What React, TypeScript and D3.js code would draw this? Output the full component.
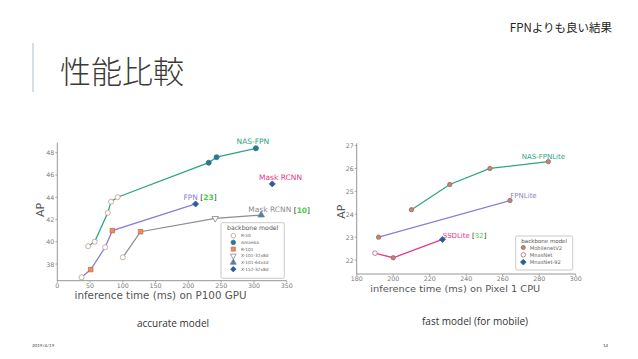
import React from "react";
import * as d3 from "d3";

// ---------- Data ----------
// Left chart (P100 GPU)
const nasFpnX = [47, 57, 77, 82, 92, 231, 243, 303];
const nasFpnY = [39.6, 40.0, 42.6, 43.6, 44.0, 47.1, 47.6, 48.4];
const nasFpnM = ["R-50", "R-50", "R-50", "R-50", "R-50", "Amoeba", "Amoeba", "Amoeba"];

const fpnX = [37, 51, 73, 84, 211];
const fpnY = [36.8, 37.5, 39.5, 41.0, 43.4];
const fpnM = ["R-50", "R-101", "R-50", "R-101", "X-152-32x8d"];

const maskX = [100, 127, 241, 311];
const maskY = [38.6, 40.9, 42.1, 42.4];
const maskM = ["R-50", "R-101", "X-101-32x8d", "X-101-64x4d"];

const maskSoloX = [328];
const maskSoloY = [45.2];
const maskSoloM = ["X-152-32x8d"];

const leftXTicks = [0, 50, 100, 150, 200, 250, 300, 350];
const leftYTicks = [38, 40, 42, 44, 46, 48];
const leftLegend = ["R-50", "Amoeba", "R-101", "X-101-32x8d", "X-101-64x4d", "X-152-32x8d"];

// Right chart (Pixel 1 CPU)
const nasLiteX = [210, 231, 253, 285];
const nasLiteY = [24.2, 25.3, 26.0, 26.3];
const nasLiteM = ["MobilenetV2", "MobilenetV2", "MobilenetV2", "MobilenetV2"];

const fpnLiteX = [192, 264];
const fpnLiteY = [23.0, 24.6];
const fpnLiteM = ["MobilenetV2", "MobilenetV2"];

const ssdLiteX = [190, 200, 227];
const ssdLiteY = [22.3, 22.1, 22.9];
const ssdLiteM = ["MnasNet", "MobilenetV2", "MnasNet-92"];

const rightXTicks = [180, 200, 220, 240, 260, 280, 300];
const rightYTicks = [22, 23, 24, 25, 26, 27];
const rightLegend = ["MobilenetV2", "MnasNet", "MnasNet-92"];

// ---------- Styles ----------
const GREEN = "#2ea585";
const PURPLE = "#8a7fd0";
const GRAY = "#8e8e8e";
const MAGENTA = "#e8388a";
const BRIGHT_GREEN = "#3fd13f";
const AXIS = "#8a8a8a";
const TICKTXT = "#7a7a7a";
const CHARTFONT = "DejaVu Sans, sans-serif";

type MStyle = { type: d3.SymbolType; fill: string; stroke: string; rot?: number; size: number };
const markerStyles: Record<string, MStyle> = {
  "R-50": { type: d3.symbolCircle, fill: "#ffffff", stroke: "#c29a86", size: 20 },
  Amoeba: { type: d3.symbolCircle, fill: "#2e7690", stroke: "#2e7690", size: 20 },
  "R-101": { type: d3.symbolSquare, fill: "#ec8d62", stroke: "#c86a45", size: 20 },
  "X-101-32x8d": { type: d3.symbolTriangle, fill: "#ffffff", stroke: "#888888", rot: 180, size: 18 },
  "X-101-64x4d": { type: d3.symbolTriangle, fill: "#5b7fa3", stroke: "#5b7fa3", size: 18 },
  "X-152-32x8d": { type: d3.symbolSquare, fill: "#2f5d9c", stroke: "#2f5d9c", rot: 45, size: 18 },
  MobilenetV2: { type: d3.symbolCircle, fill: "#c08676", stroke: "#9c6a5e", size: 15 },
  MnasNet: { type: d3.symbolCircle, fill: "#ffffff", stroke: "#a86a8a", size: 17 },
  "MnasNet-92": { type: d3.symbolSquare, fill: "#2f5d9c", stroke: "#2f5d9c", rot: 45, size: 18 },
};

function Marker({ x, y, m, scale = 1 }: { x: number; y: number; m: string; scale?: number }) {
  const s = markerStyles[m];
  const path = d3.symbol().type(s.type).size(s.size * scale)()!;
  return (
    <path
      d={path}
      transform={`translate(${x},${y}) rotate(${s.rot || 0})`}
      fill={s.fill}
      stroke={s.stroke}
      strokeWidth={0.8}
    />
  );
}

// ---------- Left chart scales ----------
const lx = d3.scaleLinear().domain([0, 350]).range([57.3, 286.7]);
const ly = d3.scaleLinear().domain([36.5, 48.9]).range([280.7, 142.7]);
// ---------- Right chart scales ----------
const rx = d3.scaleLinear().domain([180, 300]).range([356.7, 575.7]);
const ry = d3.scaleLinear().domain([21.39, 27.1]).range([274, 143.3]);

function Series({ xs, ys, ms, color, sx, sy, scale = 1 }: any) {
  const line = d3
    .line<number>()
    .x((_, i) => sx(xs[i]))
    .y((_, i) => sy(ys[i]));
  return (
    <g>
      {xs.length > 1 && <path d={line(xs)!} fill="none" stroke={color} strokeWidth={1.3} />}
      {xs.map((v: number, i: number) => (
        <Marker key={i} x={sx(v)} y={sy(ys[i])} m={ms[i]} scale={scale} />
      ))}
    </g>
  );
}

function Axes({ sx, sy, xTicks, yTicks, xLabel, xLabelY, xLabelLen, xLabelSize, apX, apY }: any) {
  const [x0, x1] = sx.range();
  const [y0, y1] = sy.range();
  return (
    <g fontFamily={CHARTFONT}>
      <line x1={x0} x2={x0} y1={y0} y2={y1} stroke={AXIS} strokeWidth={0.9} />
      <line x1={x0} x2={x1} y1={y0} y2={y0} stroke={AXIS} strokeWidth={0.9} />
      {yTicks.map((t: number) => (
        <g key={t}>
          <line x1={x0 - 2} x2={x0} y1={sy(t)} y2={sy(t)} stroke={AXIS} strokeWidth={0.7} />
          <text x={x0 - 3} y={sy(t)} fontSize={6.3} fill={TICKTXT} textAnchor="end" dominantBaseline="central">
            {t}
          </text>
        </g>
      ))}
      {xTicks.map((t: number) => (
        <g key={t}>
          <line x1={sx(t)} x2={sx(t)} y1={y0} y2={y0 + 2} stroke={AXIS} strokeWidth={0.7} />
          <text x={sx(t)} y={y0 + 4.8} fontSize={6.3} fill={TICKTXT} textAnchor="middle" dominantBaseline="central">
            {t}
          </text>
        </g>
      ))}
      <text
        x={(x0 + x1) / 2 - (x1 - x0) * 0.05}
        y={xLabelY}
        fontSize={xLabelSize}
        fill="#555"
        textAnchor="middle"
        dominantBaseline="central"
        textLength={xLabelLen}
        lengthAdjust="spacingAndGlyphs"
      >
        {xLabel}
      </text>
      <text
        x={apX}
        y={apY}
        fontSize={11}
        fill="#555"
        textAnchor="middle"
        dominantBaseline="central"
        transform={`rotate(-90 ${apX} ${apY})`}
      >
        AP
      </text>
    </g>
  );
}

function Legend({ x, y, w, h, items, titleSize, itemSize, step, markerDx, textDx, firstDy, scale }: any) {
  return (
    <g fontFamily={CHARTFONT}>
      <rect x={x} y={y} width={w} height={h} fill="#fff" stroke="#bbb" strokeWidth={0.8} rx={1.5} />
      <text x={x + w / 2} y={y + 5} fontSize={titleSize} fill="#555" textAnchor="middle" dominantBaseline="central">
        backbone model
      </text>
      {items.map((it: string, i: number) => (
        <g key={it}>
          <Marker x={x + markerDx} y={y + firstDy + i * step} m={it} scale={scale} />
          <text x={x + textDx} y={y + firstDy + i * step} fontSize={itemSize} fill="#666" dominantBaseline="central">
            {it}
          </text>
        </g>
      ))}
    </g>
  );
}

export default function App() {
  return (
    <svg
      width={638}
      height={359}
      style={{ position: "absolute", left: 0, top: 0, background: "#fff" }}
    >
      <rect width={638} height={359} fill="#fff" />
      {/* Slide header */}
      <line x1={33} x2={33} y1={43} y2={92} stroke="#c9d5da" strokeWidth={1.5} />
      <text
        x={60}
        y={69}
        fontSize={31}
        fontFamily="'Noto Sans CJK JP', sans-serif"
        fontWeight={300}
        fill="#3a3a36"
        dominantBaseline="central"
      >
        性能比較
      </text>
      <text
        x={612}
        y={27}
        fontSize={11.5}
        fontFamily="'Noto Sans CJK JP', sans-serif"
        fill="#222"
        textAnchor="end"
        dominantBaseline="central"
      >
        FPNよりも良い結果
      </text>

      {/* Left chart */}
      <Axes
        sx={lx}
        sy={ly}
        xTicks={leftXTicks}
        yTicks={leftYTicks}
        xLabel="inference time (ms) on P100 GPU"
        xLabelY={294.5}
        xLabelLen={172}
        xLabelSize={10.5}
        apX={40.7}
        apY={210}
      />
      <Series xs={nasFpnX} ys={nasFpnY} ms={nasFpnM} color={GREEN} sx={lx} sy={ly} />
      <Series xs={fpnX} ys={fpnY} ms={fpnM} color={PURPLE} sx={lx} sy={ly} />
      <Series xs={maskX} ys={maskY} ms={maskM} color={GRAY} sx={lx} sy={ly} />
      <Series xs={maskSoloX} ys={maskSoloY} ms={maskSoloM} color={MAGENTA} sx={lx} sy={ly} />
      <g fontFamily={CHARTFONT} fontSize={7.5}>
        <text x={lx(nasFpnX[7]) - 3} y={141} fill={GREEN} textAnchor="middle" dominantBaseline="central">
          NAS-FPN
        </text>
        <text x={259} y={177} fill={MAGENTA} dominantBaseline="central">
          Mask RCNN
        </text>
        <text x={183.5} y={197} fill={PURPLE} dominantBaseline="central">
          FPN <tspan fill="#333">[</tspan>
          <tspan fill={BRIGHT_GREEN} fontWeight="bold">23</tspan>
          <tspan fill="#333">]</tspan>
        </text>
        <text x={248.3} y={209.5} fill={GRAY} dominantBaseline="central">
          Mask RCNN <tspan fill="#333">[</tspan>
          <tspan fill={BRIGHT_GREEN} fontWeight="bold">10</tspan>
          <tspan fill="#333">]</tspan>
        </text>
      </g>
      <Legend
        x={221}
        y={222.7}
        w={63.3}
        h={55.6}
        items={leftLegend}
        titleSize={6.2}
        itemSize={4.3}
        step={6.7}
        markerDx={12.3}
        textDx={20}
        firstDy={13}
        scale={0.8}
      />

      {/* Right chart */}
      <Axes
        sx={rx}
        sy={ry}
        xTicks={rightXTicks}
        yTicks={rightYTicks}
        xLabel="inference time (ms) on Pixel 1 CPU"
        xLabelY={288}
        xLabelLen={170}
        xLabelSize={9.5}
        apX={341.7}
        apY={211.7}
      />
      <Series xs={nasLiteX} ys={nasLiteY} ms={nasLiteM} color={GREEN} sx={rx} sy={ry} />
      <Series xs={fpnLiteX} ys={fpnLiteY} ms={fpnLiteM} color={PURPLE} sx={rx} sy={ry} />
      <Series xs={ssdLiteX} ys={ssdLiteY} ms={ssdLiteM} color={MAGENTA} sx={rx} sy={ry} />
      <g fontFamily={CHARTFONT} fontSize={7}>
        <text x={521.7} y={157} fill={GREEN} dominantBaseline="central">
          NAS-FPNLite
        </text>
        <text x={510.3} y={196} fill={PURPLE} dominantBaseline="central">
          FPNLite
        </text>
        <text x={442.7} y={235.5} fill={MAGENTA} dominantBaseline="central">
          SSDLite <tspan fill="#333">[</tspan>
          <tspan fill={BRIGHT_GREEN}>32</tspan>
          <tspan fill="#333">]</tspan>
        </text>
      </g>
      <Legend
        x={515.7}
        y={236}
        w={57}
        h={34}
        items={rightLegend}
        titleSize={5.5}
        itemSize={5.2}
        step={7.3}
        markerDx={7.6}
        textDx={14}
        firstDy={11.5}
        scale={0.9}
      />

      {/* Bottom captions */}
      <text x={173} y={323} fontSize={10} fontFamily="'Open Sans', sans-serif" fill="#333" textAnchor="middle" dominantBaseline="central">
        accurate model
      </text>
      <text x={475} y={321} fontSize={10} fontFamily="'Open Sans', sans-serif" fill="#333" textAnchor="middle" dominantBaseline="central">
        fast model (for mobile)
      </text>
      <text x={32} y={345} fontSize={4.5} fontFamily="Lato, sans-serif" fill="#444" dominantBaseline="central">
        2019/4/19
      </text>
      <text x={603} y={345} fontSize={4.5} fontFamily="Lato, sans-serif" fill="#444" dominantBaseline="central">
        14
      </text>
    </svg>
  );
}
